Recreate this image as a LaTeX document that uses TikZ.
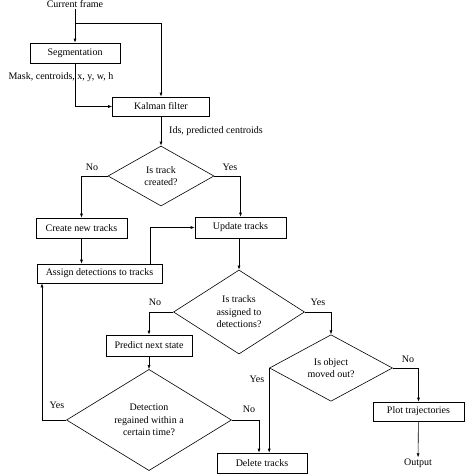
\documentclass[tikz,border=0pt]{standalone}
\usepackage{fontspec}
\setmainfont{Liberation Serif}
\usetikzlibrary{arrows.meta,shapes.geometric}

\begin{document}
\begin{tikzpicture}[
  x=1pt,y=-1pt,
  >={Latex[length=4pt,width=3pt]},
  line width=0.6pt,
  every node/.style={font=\fontsize{10}{12.5}\selectfont},
  proc node/.style={rectangle,draw,minimum height=20pt,inner sep=1pt},
  test node/.style={diamond,draw,align=center,inner sep=0pt},
  edge label/.style={inner sep=1pt},
]
\useasboundingbox (0,0) rectangle (474,474);
\node[edge label,anchor=base] (cf) at (75,7.5) {Current frame};
\coordinate (split) at (75,23);
\node[proc node,minimum width=90pt] (seg) at (75,53) {Segmentation};
\node[proc node,minimum width=97pt,minimum height=19pt] (kal) at (161,106.5) {Kalman filter};
\node[test node,minimum width=106pt,minimum height=60pt] (d1) at (161,176) {Is track\\created?};
\node[proc node,minimum width=91pt] (create) at (81.5,228) {Create new tracks};
\node[proc node,minimum width=91pt,minimum height=21pt] (update) at (240.5,227.5) {Update tracks};
\node[proc node,minimum width=125pt,minimum height=19pt] (assign) at (99.5,273.5) {Assign detections to tracks};
\node[test node,minimum width=131pt,minimum height=84pt] (d2) at (239,312) {Is tracks\\assigned to\\detections?};
\node[proc node,minimum width=86pt,minimum height=21pt] (predict) at (149,345.5) {Predict next state};
\node[test node,minimum width=123pt,minimum height=64pt] (d3) at (331,368) {Is object\\moved out?};
\node[test node,minimum width=165pt,minimum height=85pt] (d4) at (149,420) {Detection\\regained within a\\certain time?};
\node[proc node,minimum width=91pt,minimum height=19pt] (plot) at (418.5,411.5) {Plot trajectories};
\node[proc node,minimum width=90pt] (delete) at (262,463) {Delete tracks};
\node[edge label] (out) at (418,463) {Output};
% labels
\node[edge label] (lmask) at (61,77) {Mask, centroids, x, y, w, h};
\node[edge label] (lids) at (216,131) {Ids, predicted centroids};
\node[edge label] (l1no) at (92,167) {No};
\node[edge label] (l1yes) at (230,167) {Yes};
\node[edge label] (l2no) at (155,302) {No};
\node[edge label] (l2yes) at (318,302) {Yes};
\node[edge label] (l3yes) at (257,379) {Yes};
\node[edge label] (l3no) at (408,359) {No};
\node[edge label] (l4yes) at (57,405) {Yes};
\node[edge label] (l4no) at (249,409) {No};
% connectors
\draw[->] (cf) -- (seg);
\draw[->] (split) -| (kal);
\draw[->] (seg) |- (kal);
\draw[->] (kal) -- (d1);
\draw[->] (d1) -| (create);
\draw[->] (d1) -| (update);
\draw[->] (create.south) -- (create.south |- assign.north);
\draw[->] ([xshift=50.5pt]assign.north) |- (update);
\draw[->] (update.south) -- (update.south -| d2.north) -- (d2);
\draw[->] (d2) -| (predict);
\draw[->] (d2) -| (d3);
\draw[->] (predict) -- (d4);
\draw[->] (d4) -| ([xshift=-57.5pt]assign.south);
\draw[->] (d4) -| ([xshift=-3pt]delete.north);
\draw[->] (d3.west) -- (d3.west |- delete.north);
\draw[->] (d3) -| (plot);
\draw[->] (plot) -- (out);
\end{tikzpicture}
\end{document}
